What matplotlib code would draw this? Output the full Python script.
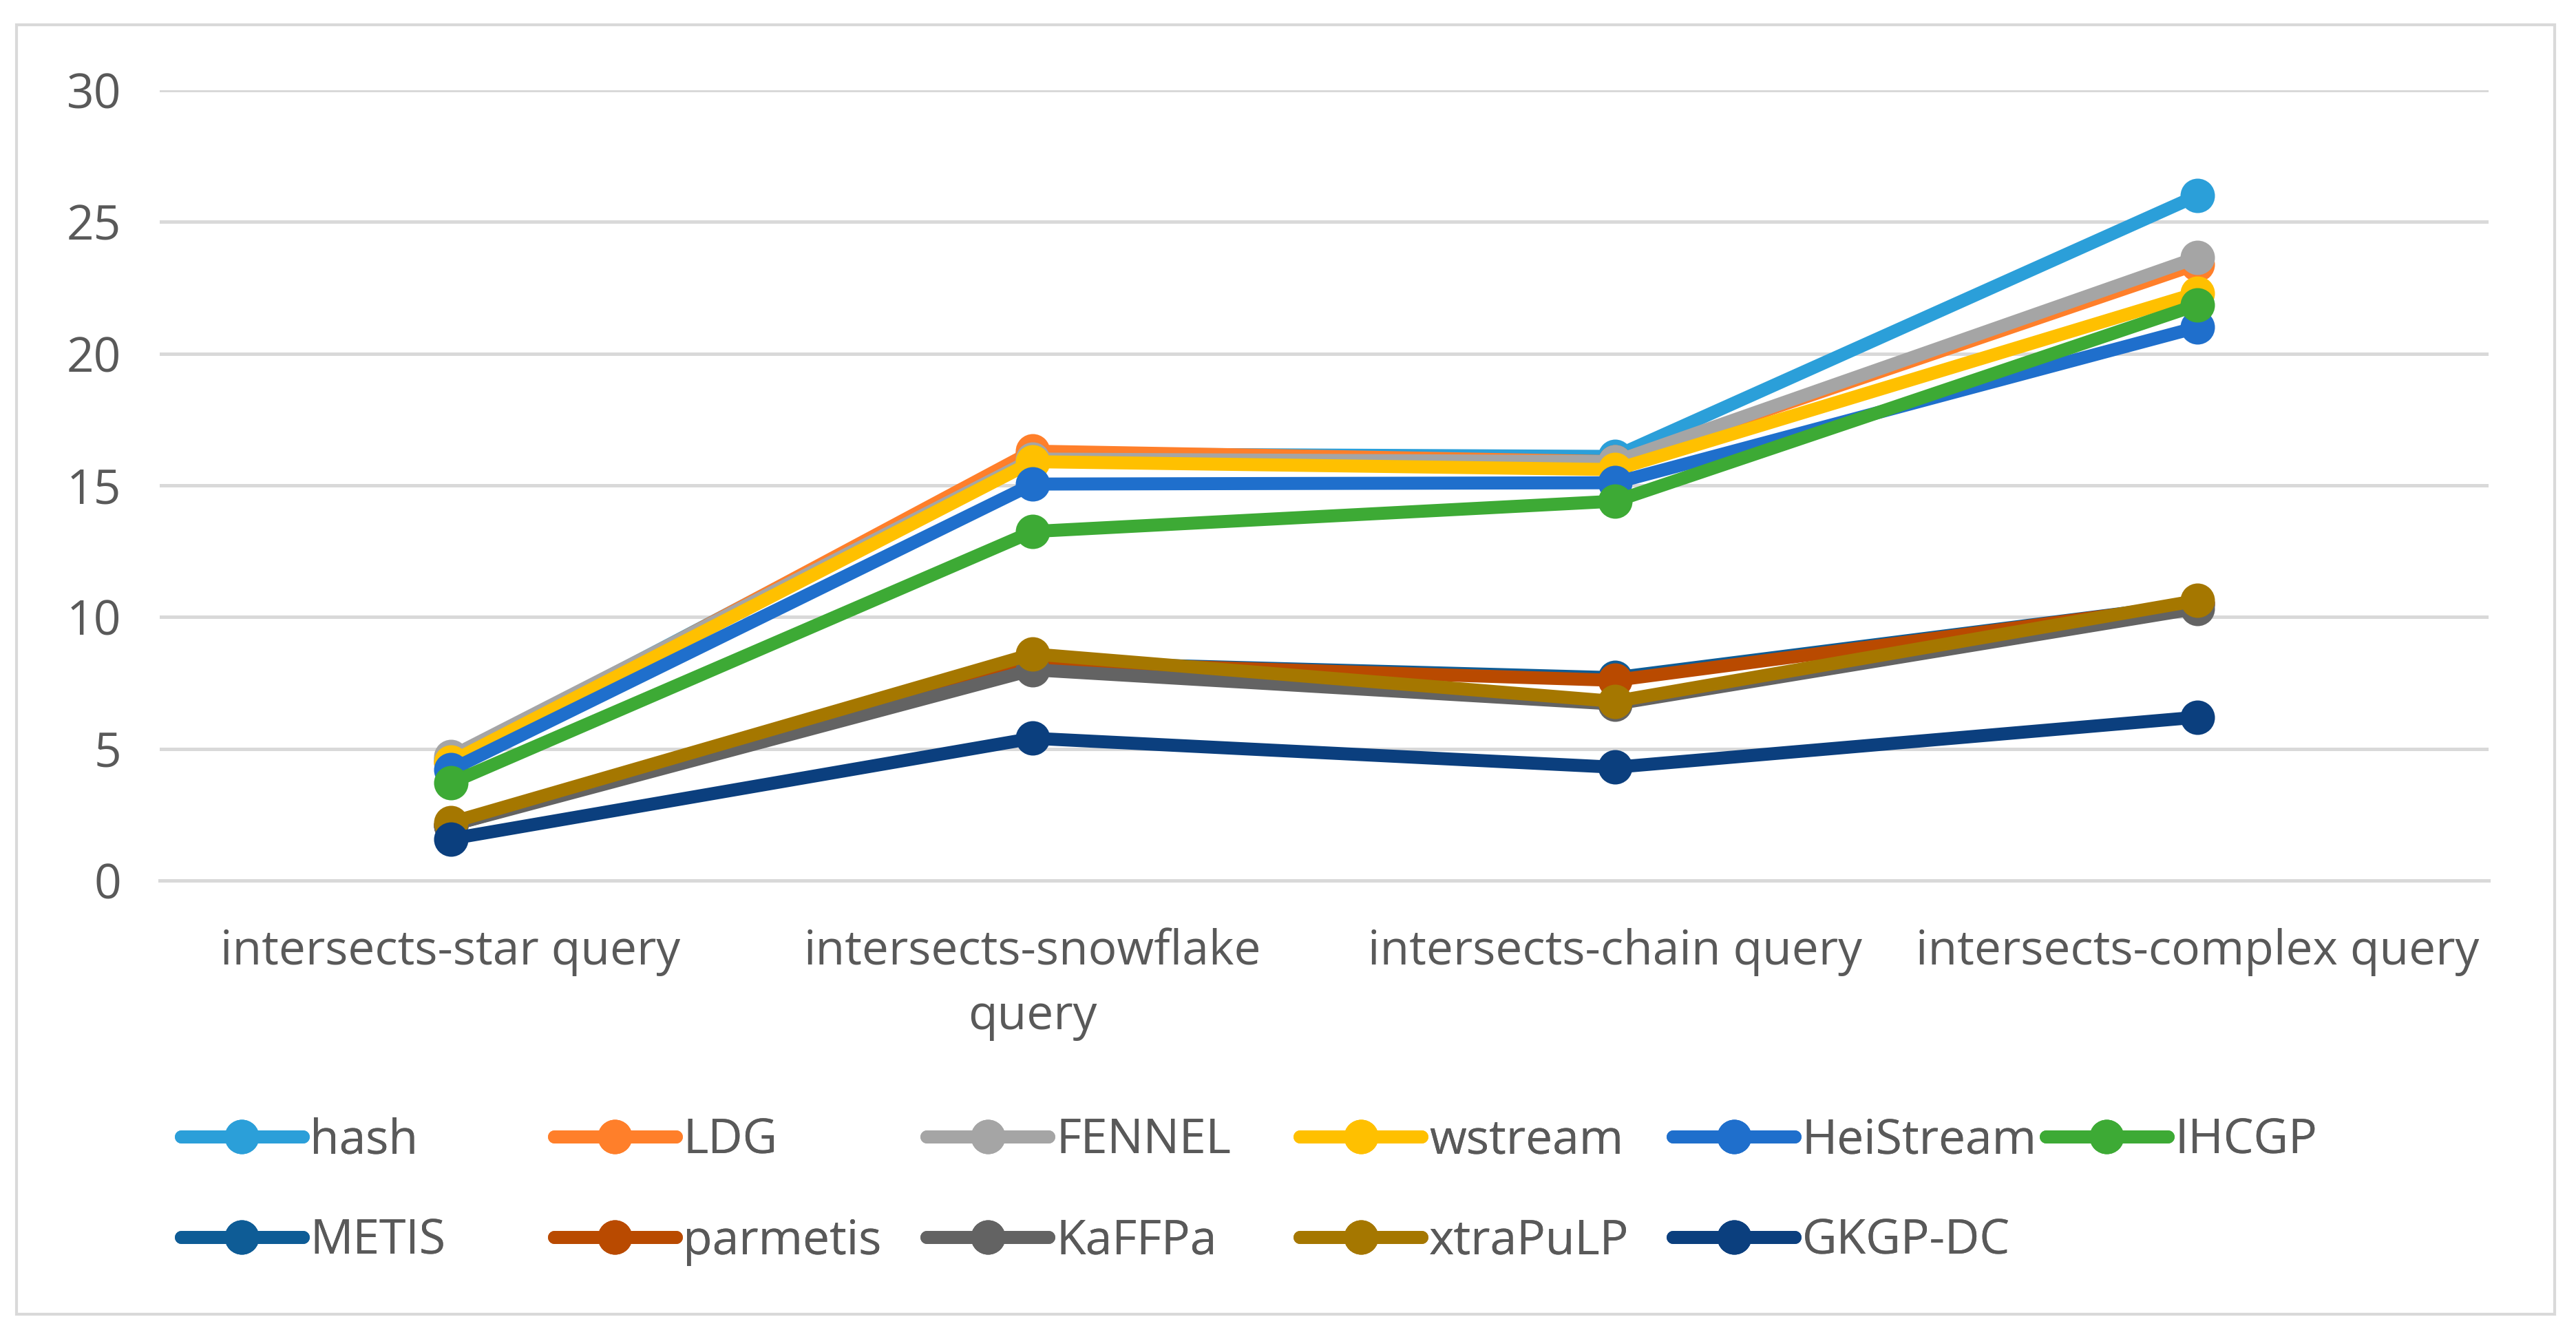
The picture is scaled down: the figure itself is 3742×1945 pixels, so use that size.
import matplotlib.pyplot as plt
from matplotlib.patches import Rectangle

plt.rcParams['font.family'] = ['Open Sans', 'DejaVu Sans']

categories = ['intersects-star query', 'intersects-snowflake\nquery',
              'intersects-chain query', 'intersects-complex query']

hash_ = [4.6, 16.2, 16.1, 26.0]
ldg = [4.5, 16.3, 15.9, 23.4]
fennel = [4.7, 16.0, 15.9, 23.65]
wstream = [4.5, 15.9, 15.6, 22.3]
heistream = [4.2, 15.05, 15.1, 21.0]
ihcgp = [3.7, 13.25, 14.4, 21.85]
metis = [2.1, 8.3, 7.7, 10.5]
parmetis = [2.1, 8.3, 7.6, 10.5]
kaffpa = [2.1, 8.0, 6.7, 10.33]
xtrapulp = [2.2, 8.6, 6.8, 10.63]
gkgp_dc = [1.58, 5.4, 4.3, 6.2]

names = ['hash', 'LDG', 'FENNEL', 'wstream', 'HeiStream', 'IHCGP',
         'METIS', 'parmetis', 'KaFFPa', 'xtraPuLP', 'GKGP-DC']
series = [hash_, ldg, fennel, wstream, heistream, ihcgp,
          metis, parmetis, kaffpa, xtrapulp, gkgp_dc]
colors = ['#2B9FD9', '#FF7F2A', '#A5A5A5', '#FFC000', '#1F6FCC', '#3DAA35',
          '#0E5C96', '#B94A00', '#636363', '#A57700', '#0B3F7E']

text_col = '#595959'
fs = 25

fig = plt.figure(figsize=(18.71, 9.725), dpi=200)
ax = fig.add_axes([0.0619, 0.3424, 0.9041, 0.5902])

x = range(len(categories))
handles = []
for name, vals, c in zip(names, series, colors):
    h, = ax.plot(x, vals, color=c, lw=6.8, marker='o', ms=17, label=name,
                 solid_joinstyle='round', solid_capstyle='round')
    handles.append(h)

ax.set_xlim(-0.5, 3.5)
ax.set_ylim(0, 30)
ax.set_yticks(range(0, 31, 5))
ax.set_xticks(list(x))
ax.set_xticklabels(categories, fontsize=fs, color=text_col, linespacing=1.45)
ax.tick_params(axis='y', labelsize=fs, labelcolor=text_col, length=0, pad=20)
ax.tick_params(axis='x', length=0, pad=25)
ax.grid(axis='y', color='#D9D9D9', lw=1.8)
ax.set_axisbelow(True)
for s in ['top', 'right', 'left']:
    ax.spines[s].set_visible(False)
ax.spines['bottom'].set_color('#D9D9D9')
ax.spines['bottom'].set_linewidth(1.8)

# legend: 6 equally spaced columns, 2 rows
col_x = [0.0702 + i * 0.1448 for i in range(6)]
for i in range(6):
    hs = [handles[i]]
    if i + 6 < len(handles):
        hs.append(handles[i + 6])
    leg = fig.legend(handles=hs, loc='upper left', bbox_to_anchor=(col_x[i], 0.166),
                     frameon=False, fontsize=fs, labelcolor=text_col,
                     handlelength=2.55, handletextpad=0.15, labelspacing=1.1,
                     borderpad=0, borderaxespad=0)
    fig.add_artist(leg)

# outer chart border
fig.add_artist(Rectangle((0.0064, 0.0185), 0.9852, 0.963, transform=fig.transFigure,
                         fill=False, edgecolor='#D9D9D9', lw=1.5))

fig.savefig('out.png', dpi=200, facecolor='white')
